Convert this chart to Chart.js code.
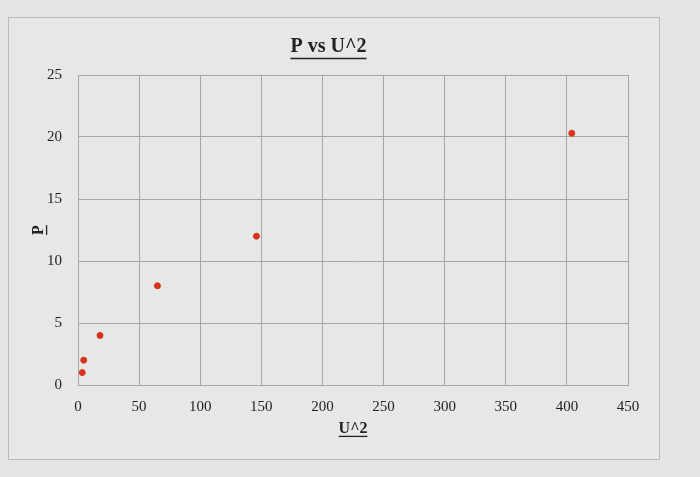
<!DOCTYPE html>
<html>
<head>
<meta charset="utf-8">
<script src="https://cdn.jsdelivr.net/npm/chart.js@4/dist/chart.umd.min.js"></script>
<style>
  body { margin: 0; background: #e3e5e3; width: 700px; height: 477px; overflow: hidden; }
  #box { position: absolute; left: 8px; top: 17px; width: 650px; height: 441px;
         background: #e6e8e6; border: 1px solid #b9bbb9; }
</style>
</head>
<body>
<div id="box"><canvas id="chart" width="650" height="441"></canvas></div>
<script>
// data
const uSquared = [3.5, 4.7, 18, 65, 146, 404];
const power = [1, 2, 4, 8, 12, 20.3];
const xTicks = [0, 50, 100, 150, 200, 250, 300, 350, 400, 450];
const yTicks = [0, 5, 10, 15, 20, 25];

const points = uSquared.map((u, i) => ({ x: u, y: power[i] }));

const serif = 'Liberation Serif';

// underline the title and axis titles, like the spreadsheet did
const underline = {
    id: 'underline',
    afterDraw(chart) {
        const ctx = chart.ctx;
        ctx.save();
        ctx.strokeStyle = '#222';
        ctx.lineWidth = 1.3;
        function line(text, font, cx, cy, off, rotate) {
            ctx.font = font;
            const w = ctx.measureText(text).width;
            ctx.save();
            ctx.translate(cx, cy);
            if (rotate) ctx.rotate(-Math.PI / 2);
            ctx.beginPath();
            ctx.moveTo(-w / 2, off);
            ctx.lineTo(w / 2, off);
            ctx.stroke();
            ctx.restore();
        }
        const t = chart.titleBlock;
        line('P vs U^2', 'bold 20px "' + serif + '"', t.left + t.width / 2, t.top + t.height / 2, 9, false);
        const xs = chart.scales.x, ys = chart.scales.y;
        line('U^2', 'bold 16px "' + serif + '"', (xs.left + xs.right) / 2, xs.bottom - 9.6, 8, false);
        line('P', 'bold 16px "' + serif + '"', ys.left + 9.6, (ys.top + ys.bottom) / 2, 8, true);
        ctx.restore();
    }
};

new Chart(document.getElementById('chart'), {
    type: 'scatter',
    data: {
        datasets: [{
            data: points,
            backgroundColor: '#d8321f',
            borderColor: '#d8321f',
            pointRadius: 3
        }]
    },
    options: {
        responsive: false,
        animation: false,
        layout: { padding: { left: 20, right: 31, top: 6, bottom: 21 } },
        plugins: {
            legend: { display: false },
            tooltip: { enabled: false },
            title: {
                display: true,
                text: 'P vs U^2',
                color: '#222',
                font: { family: serif, size: 20, weight: 'bold' },
                padding: { top: 11, bottom: 16 }
            }
        },
        scales: {
            x: {
                type: 'linear',
                min: 0,
                max: 450,
                afterBuildTicks: s => { s.ticks = xTicks.map(v => ({ value: v })); },
                afterFit: s => { s.height = 53; },
                grid: { color: '#a5a7a5', drawTicks: false },
                border: { color: '#a5a7a5' },
                ticks: { color: '#222', padding: 13, font: { family: serif, size: 15 } },
                title: {
                    display: true,
                    text: 'U^2',
                    color: '#222',
                    font: { family: serif, size: 16, weight: 'bold' },
                    padding: 0
                }
            },
            y: {
                min: 0,
                max: 25,
                afterBuildTicks: s => { s.ticks = yTicks.map(v => ({ value: v })); },
                afterFit: s => { s.width = 49; },
                grid: { color: '#a5a7a5', drawTicks: false },
                border: { color: '#a5a7a5' },
                ticks: { color: '#222', padding: 16, font: { family: serif, size: 15 } },
                title: {
                    display: true,
                    text: 'P',
                    color: '#222',
                    font: { family: serif, size: 16, weight: 'bold' },
                    padding: 0
                }
            }
        }
    },
    plugins: [underline]
});
</script>
</body>
</html>
